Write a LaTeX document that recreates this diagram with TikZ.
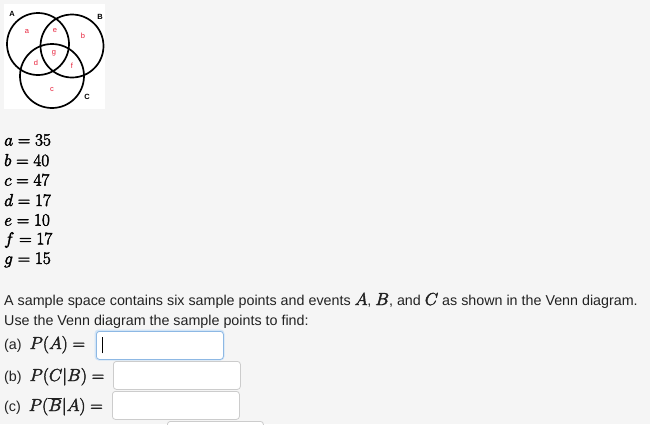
\documentclass[tikz,border=0pt]{standalone}
\usepackage{fontspec}
\setmainfont{Liberation Sans}
\definecolor{bg}{HTML}{F5F5F5}
\definecolor{boxline}{HTML}{CCCCCC}
\definecolor{focusline}{HTML}{8DB8E4}
\definecolor{focusglow}{HTML}{D3E5F6}
\definecolor{vred}{HTML}{E8203A}
\definecolor{ink}{HTML}{222222}
\newcommand\heavymath[1]{\special{pdf:literal direct 2 Tr 0.45 w}#1\special{pdf:literal direct 0 Tr}}
\begin{document}
\begin{tikzpicture}[x=1pt,y=-1pt,
  vcirc/.style={draw=black,line width=1.7pt},
  setlab/.style={font=\fontsize{7.5}{7.5}\selectfont\bfseries,text=black,inner sep=0pt},
  reglab/.style={font=\fontsize{7.5}{7.5}\selectfont,text=vred,inner sep=0pt},
  eqn/.style={anchor=west,inner sep=0pt,font=\fontsize{16.5}{18}\selectfont},
  body/.style={anchor=base west,inner sep=0pt,text=ink,font=\fontsize{14.3}{16}\selectfont},
  inbox/.style={draw=boxline,fill=white,rounded corners=3pt,line width=0.8pt,
    anchor=north west,minimum width=127pt,minimum height=28pt,inner sep=0pt},
  focusbox/.style={inbox,draw=focusline}]
\useasboundingbox[fill=bg] (0,0) rectangle (650,424);
% Venn picture
\fill[white] (4,4) rectangle (105,109);
\node[vcirc,circle,minimum size=62pt,inner sep=0pt] (cA) at (38,44) {};
\node[vcirc,circle,minimum size=63pt,inner sep=0pt] (cB) at (72,46) {};
\node[vcirc,circle,minimum size=64pt,inner sep=0pt] (cC) at (52,76) {};
\node[setlab] (lA) at (12,14) {A};
\node[setlab] (lB) at (100,17) {B};
\node[setlab] (lC) at (87,97) {C};
\node[reglab] (ra) at (27,32) {a};
\node[reglab] (re) at (55,31) {e};
\node[reglab] (rb) at (83,36) {b};
\node[reglab] (rg) at (54,53) {g};
\node[reglab] (rd) at (36,63) {d};
\node[reglab] (rf) at (72,66) {f};
\node[reglab] (rc) at (52,90) {c};
% values
\node[eqn] (ea) at (4,140) {\heavymath{$a=35$}};
\node[eqn] (eb) at (4,160) {\heavymath{$b=40$}};
\node[eqn] (ec) at (4,180) {\heavymath{$c=47$}};
\node[eqn] (ed) at (4,200) {\heavymath{$d=17$}};
\node[eqn] (ee) at (4,220) {\heavymath{$e=10$}};
\node[eqn] (ef) at (4,240) {\heavymath{$f=17$}};
\node[eqn] (eg) at (4,260) {\heavymath{$g=15$}};
% text
\node[body] (t1) at (4,305) {A sample space contains six sample points and events {\fontsize{17}{17}\selectfont\heavymath{$A$}}, {\fontsize{17}{17}\selectfont\heavymath{$B$}}, and {\fontsize{17}{17}\selectfont\heavymath{$C$}} as shown in the Venn diagram.};
\node[body] (t2) at (4,325) {Use the Venn diagram the sample points to find:};
\node[body] (qa) at (4,349) {(a)\ \ {\fontsize{17}{17}\selectfont\heavymath{$P(A)=$}}};
\node[body] (qb) at (4,381) {(b)\ \ {\fontsize{17}{17}\selectfont\heavymath{$P(C|B)=$}}};
\node[body] (qc) at (4,411) {(c)\ \ {\fontsize{17}{17}\selectfont\heavymath{$P(\overline{B}|A)=$}}};
% input boxes
\fill[focusglow,rounded corners=4pt] (94.5,329.5) rectangle (224.5,360.5);
\node[focusbox] (ba) at (96,331) {};
\draw[black,line width=0.8pt] ([xshift=6pt,yshift=-8pt]ba.west) coordinate (cur1) -- ([xshift=6pt,yshift=8pt]ba.west) coordinate (cur2);
\node[inbox] (bb) at (113,361) {};
\node[inbox] (bc) at (112,391) {};
\node[inbox,minimum width=96pt] (bd) at (167,421) {};
\end{tikzpicture}
\end{document}
